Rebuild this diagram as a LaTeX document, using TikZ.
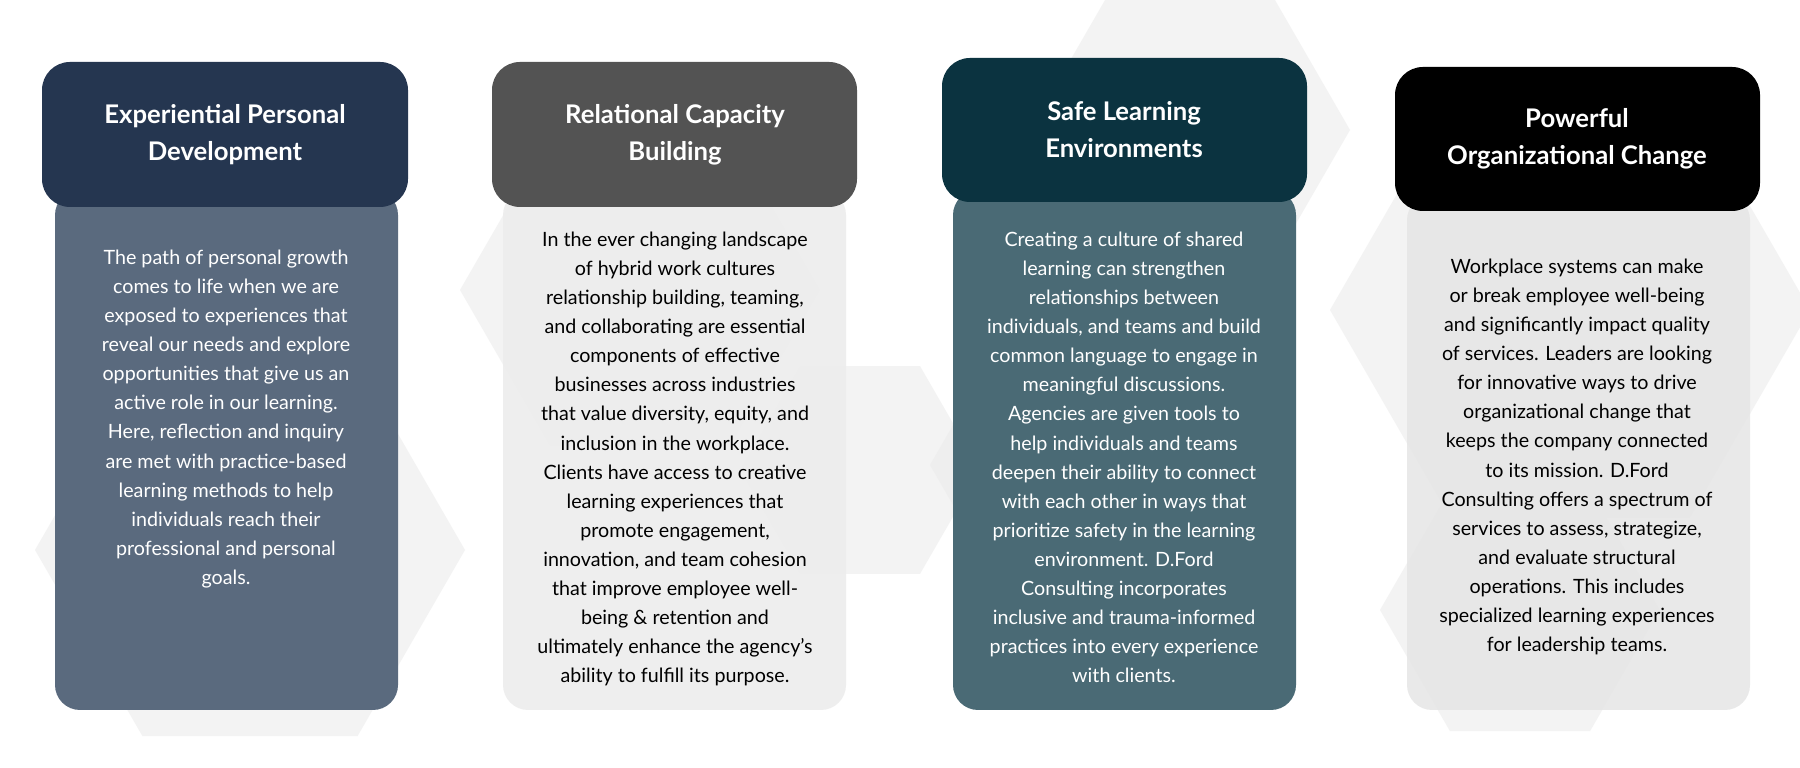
\documentclass[tikz,border=0pt]{standalone}
\usepackage{fontspec}
\setmainfont{Lato}
\begin{document}
\begin{tikzpicture}[x=0.01cm,y=-0.01cm,
  hexa/.style={fill=black!8,opacity=0.6},
  head/.style={rounded corners=0.28cm},
  body/.style={rounded corners=0.25cm},
  htxt/.style={text=white,font=\fontsize{7.3pt}{10.5pt}\selectfont\bfseries,align=center},
  btxt/.style={font=\fontsize{5.6pt}{8.25pt}\selectfont,align=center,anchor=north}]
\useasboundingbox (0,0) rectangle (1800,768);
\fill[white] (0,0) rectangle (1800,768);
% background hexagons
\foreach \cx/\cy/\r in {250/550/215, 640/290/180, 1190/130/160, 1110/465/180, 1570/310/240, 860/470/120, 1520/610/140}{
  \fill[hexa] (\cx-\r,\cy) -- (\cx-\r/2,\cy-0.866*\r) -- (\cx+\r/2,\cy-0.866*\r) -- (\cx+\r,\cy) -- (\cx+\r/2,\cy+0.866*\r) -- (\cx-\r/2,\cy+0.866*\r) -- cycle;}
% cards
\fill[body,fill={rgb,255:red,90;green,106;blue,126}] (55,190) rectangle (398,710);
\fill[head,fill={rgb,255:red,37;green,54;blue,80}] (42,62) rectangle (408,207);
\fill[body,fill={rgb,255:red,236;green,236;blue,236},opacity=0.85] (503,190) rectangle (846,710);
\fill[head,fill={rgb,255:red,83;green,83;blue,83}] (492,62) rectangle (857,207);
\fill[body,fill={rgb,255:red,74;green,106;blue,117}] (953,190) rectangle (1296,710);
\fill[head,fill={rgb,255:red,11;green,51;blue,64}] (942,58) rectangle (1307,202);
\fill[body,fill={rgb,255:red,230;green,230;blue,230},opacity=0.85] (1407,195) rectangle (1750,710);
\fill[head,fill=black] (1395,67) rectangle (1760,211);
% headers
\node[htxt] (h1) at (225,135) {Experiential Personal\\Development};
\node[htxt] (h2) at (675,135) {Relational Capacity\\Building};
\node[htxt] (h3) at (1124,130) {Safe Learning\\Environments};
\node[htxt] (h4) at (1577,139) {Powerful\\Organizational Change};
% bodies
\node[btxt,text=white] (b1) at (226,238) {The path of personal growth\\comes to life when we are\\exposed to experiences that\\reveal our needs and explore\\opportunities that give us an\\active role in our learning.\\Here, reflection and inquiry\\are met with practice-based\\learning methods to help\\individuals reach their\\professional and personal\\goals.};
\node[btxt,text=black] (b2) at (675,220) {In the ever changing landscape\\of hybrid work cultures\\relationship building, teaming,\\and collaborating are essential\\components of effective\\businesses across industries\\that value diversity, equity, and\\inclusion in the workplace.\\Clients have access to creative\\learning experiences that\\promote engagement,\\innovation, and team cohesion\\that improve employee well-\\being \& retention and\\ultimately enhance the agency's\\ability to fulfill its purpose.};
\node[btxt,text=white] (b3) at (1124,220) {Creating a culture of shared\\learning can strengthen\\relationships between\\individuals, and teams and build\\common language to engage in\\meaningful discussions.\\Agencies are given tools to\\help individuals and teams\\deepen their ability to connect\\with each other in ways that\\prioritize safety in the learning\\environment. D.Ford\\Consulting incorporates\\inclusive and trauma-informed\\practices into every experience\\with clients.};
\node[btxt,text=black] (b4) at (1577,247) {Workplace systems can make\\or break employee well-being\\and significantly impact quality\\of services. Leaders are looking\\for innovative ways to drive\\organizational change that\\keeps the company connected\\to its mission. D.Ford\\Consulting offers a spectrum of\\services to assess, strategize,\\and evaluate structural\\operations. This includes\\specialized learning experiences\\for leadership teams.};
\end{tikzpicture}
\end{document}
